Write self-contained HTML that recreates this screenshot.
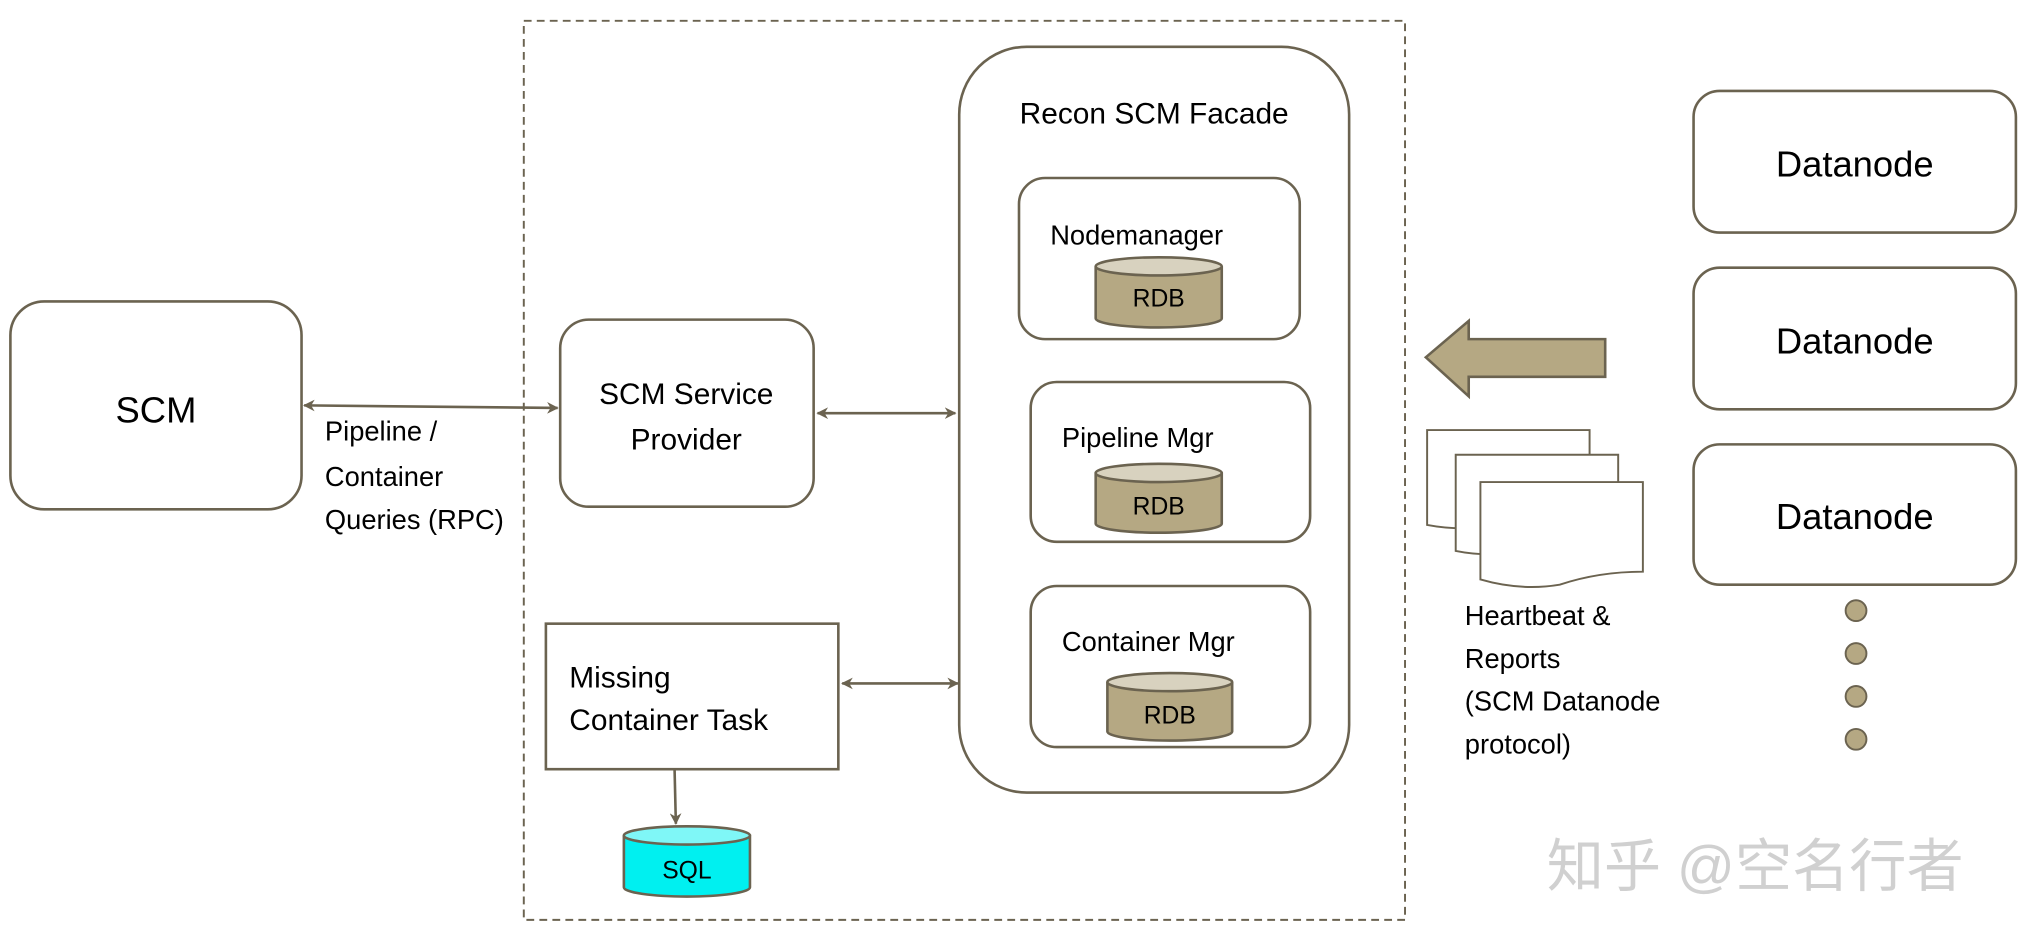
<!DOCTYPE html>
<html><head><meta charset="utf-8"><style>
html,body{margin:0;padding:0;background:#fff;}
svg{display:block;}
text{font-family:"Liberation Sans","Noto Sans CJK SC",sans-serif;fill:#000;}
</style></head><body>
<svg width="2038" height="942" viewBox="0 0 1568 725" preserveAspectRatio="none" xmlns="http://www.w3.org/2000/svg">
<defs>
<marker id="ah" viewBox="0 0 10 10" refX="9" refY="5" markerWidth="9" markerHeight="9" orient="auto-start-reverse" markerUnits="userSpaceOnUse">
<path d="M0,0 L10,5 L0,10 L3,5 z" fill="#6b6350"/>
</marker>
</defs>
<g fill="none" stroke="#6b6350" stroke-width="2">
<rect x="403" y="16" width="678" height="692" stroke-dasharray="6,4" stroke-width="1.5"/>
<rect x="8" y="232" width="224" height="160" rx="26" fill="#fff"/>
<rect x="431" y="246" width="195" height="144" rx="22" fill="#fff"/>
<rect x="738" y="36" width="300" height="574" rx="52" fill="#fff"/>
<rect x="784" y="137" width="216" height="124" rx="20" fill="#fff"/>
<rect x="793" y="294" width="215" height="123" rx="20" fill="#fff"/>
<rect x="793" y="451" width="215" height="124" rx="20" fill="#fff"/>
<rect x="420" y="480" width="225" height="112" fill="#fff"/>
<rect x="1303" y="70" width="248" height="109" rx="20" fill="#fff"/>
<rect x="1303" y="206" width="248" height="109" rx="20" fill="#fff"/>
<rect x="1303" y="342" width="248" height="108" rx="20" fill="#fff"/>
<line x1="234" y1="312" x2="429" y2="314" marker-start="url(#ah)" marker-end="url(#ah)"/>
<line x1="629" y1="318" x2="735" y2="318" marker-start="url(#ah)" marker-end="url(#ah)"/>
<line x1="648" y1="526" x2="737" y2="526" marker-start="url(#ah)" marker-end="url(#ah)"/>
<line x1="519" y1="592" x2="520" y2="634" marker-end="url(#ah)"/>
</g>
<!-- cylinders -->
<g stroke="#6b6350" stroke-width="2">
<path d="M843,205 V245 A48.5,7 0 0 0 940,245 V205" fill="#b5a883"/>
<ellipse cx="891.5" cy="205" rx="48.5" ry="7" fill="#d8d2bf"/>
<path d="M843,364 V403 A48.5,7 0 0 0 940,403 V364" fill="#b5a883"/>
<ellipse cx="891.5" cy="364" rx="48.5" ry="7" fill="#d8d2bf"/>
<path d="M852,525 V563 A48,7 0 0 0 948,563 V525" fill="#b5a883"/>
<ellipse cx="900" cy="525" rx="48" ry="7" fill="#d8d2bf"/>
<path d="M480,643 V683 A48.5,7 0 0 0 577,683 V643" fill="#00f0f0"/>
<ellipse cx="528.5" cy="643" rx="48.5" ry="7" fill="#7ff7f7"/>
</g>
<!-- big arrow -->
<path d="M1097,275 L1130,247 L1130,261 L1235,261 L1235,290 L1130,290 L1130,305 Z" fill="#b5a883" stroke="#6b6350" stroke-width="2"/>
<!-- docs -->
<g fill="#fff" stroke="#6b6350" stroke-width="1.5">
<path d="M1098,331 H1223 V400 Q1180,395 1160,402 Q1130,410 1098,404 Z"/>
<path d="M1120,350 H1245 V420 Q1200,415 1180,422 Q1150,430 1120,424 Z"/>
<path d="M1139,371 H1264 V440 Q1230,440 1200,450 Q1170,455 1139,446 Z"/>
</g>
<g fill="#b5a883" stroke="#6b6350" stroke-width="1.5">
<circle cx="1428" cy="470" r="8"/><circle cx="1428" cy="503" r="8"/><circle cx="1428" cy="536" r="8"/><circle cx="1428" cy="569" r="8"/>
</g>
<!-- text -->
<text x="120" y="325" font-size="28" text-anchor="middle">SCM</text>
<text x="250" y="339" font-size="21">Pipeline /</text>
<text x="250" y="374" font-size="21">Container</text>
<text x="250" y="407" font-size="21">Queries (RPC)</text>
<text x="528" y="311" font-size="23" text-anchor="middle">SCM Service</text>
<text x="528" y="346" font-size="23" text-anchor="middle">Provider</text>
<text x="888" y="95" font-size="23" text-anchor="middle">Recon SCM Facade</text>
<text x="808" y="188" font-size="21">Nodemanager</text>
<text x="891.5" y="236" font-size="19" text-anchor="middle">RDB</text>
<text x="817" y="344" font-size="21">Pipeline Mgr</text>
<text x="891.5" y="396" font-size="19" text-anchor="middle">RDB</text>
<text x="817" y="501" font-size="21">Container Mgr</text>
<text x="900" y="557" font-size="19" text-anchor="middle">RDB</text>
<text x="438" y="529" font-size="23">Missing</text>
<text x="438" y="562" font-size="23">Container Task</text>
<text x="528.5" y="676" font-size="19" text-anchor="middle">SQL</text>
<text x="1427" y="136" font-size="28" text-anchor="middle">Datanode</text>
<text x="1427" y="272" font-size="28" text-anchor="middle">Datanode</text>
<text x="1427" y="407" font-size="28" text-anchor="middle">Datanode</text>
<text x="1127" y="481" font-size="21">Heartbeat &amp;</text>
<text x="1127" y="514" font-size="21">Reports</text>
<text x="1127" y="547" font-size="21">(SCM Datanode</text>
<text x="1127" y="580" font-size="21">protocol)</text>
<text x="1190" y="682" font-size="44" style="fill:#d0d0d0">知乎 @空名行者</text>
</svg>
</body></html>
